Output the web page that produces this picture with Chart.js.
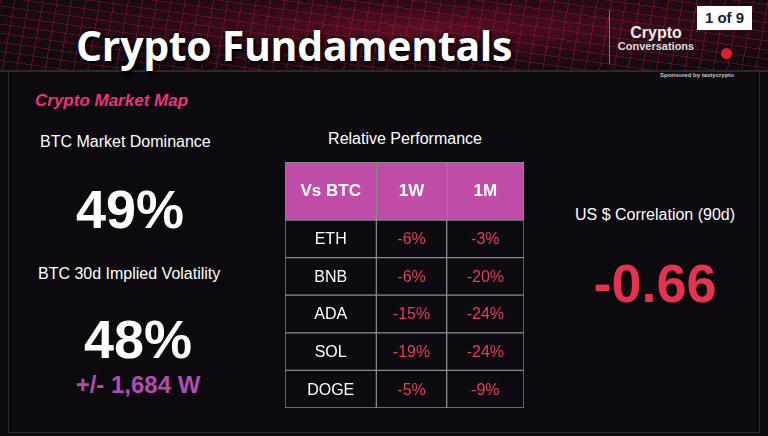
<!DOCTYPE html>
<html><head><meta charset="utf-8">
<script src="https://cdn.jsdelivr.net/npm/chart.js@4.4.1/dist/chart.umd.min.js"></script>
<style>
  body { margin:0; width:768px; height:436px; background:#0c090f; overflow:hidden; font-family:"Liberation Sans", Arial, sans-serif; position:relative; }
  .abs { position:absolute; }
  #hdr { left:0; top:0; width:768px; height:70px;
    background:
      repeating-linear-gradient(100deg, rgba(200,30,60,0.35) 0 1px, transparent 1px 14px),
      repeating-linear-gradient(8deg, rgba(200,30,60,0.30) 0 1px, transparent 1px 9px),
      radial-gradient(ellipse at 55% 40%, #5a0f24 0%, #2a0a16 45%, #120a10 80%);
    border-bottom:2px solid #2a2a2a; }
  #frame { left:8px; top:70px; width:750px; height:362px; border:1px solid #2b2b2b; border-top:none; }
  #title { left:76px; top:17px; font:bold 41px "Open Sans", sans-serif; color:#fff; letter-spacing:-0.3px; text-shadow:0 0 4px #000, 2px 2px 3px #000; }
  #sep { left:609px; top:10px; width:1px; height:54px; background:#777; }
  #cc1 { left:616px; top:24px; width:80px; text-align:center; font:bold 16px "Liberation Sans"; color:#eee; }
  #cc2 { left:611px; top:40px; width:90px; text-align:center; font:bold 11px "Liberation Sans"; color:#ddd; }
  #cherry { left:721px; top:48px; width:11px; height:11px; border-radius:50%; background:#d8202e; }
  #page { left:697px; top:6px; width:55px; height:24px; background:#fff; color:#123; font:bold 15px "Liberation Sans"; text-align:center; line-height:24px; }
  #spons { left:660px; top:72px; font:bold 6px "Liberation Sans"; color:#ccc; }
  #mm { left:35px; top:91px; font:italic bold 17px "Liberation Sans"; color:#e8357a; }
  .lbl { font:16px "Liberation Sans"; color:#fff; }
  .big { font:bold 54px "Liberation Sans"; color:#fff; text-align:center; }
</style></head>
<body>
<div id="hdr" class="abs"></div>
<div id="frame" class="abs"></div>
<div id="title" class="abs">Crypto Fundamentals</div>
<div id="sep" class="abs"></div>
<div id="cc1" class="abs">Crypto</div>
<div id="cc2" class="abs">Conversations</div>
<div id="cherry" class="abs"></div>
<div id="page" class="abs">1 of 9</div>
<div id="spons" class="abs">Sponsored by tastycrypto</div>
<div id="mm" class="abs">Crypto Market Map</div>

<div class="abs lbl" style="left:40px;top:133px">BTC Market Dominance</div>
<div class="abs big" style="left:40px;top:178px;width:180px">49%</div>
<div class="abs lbl" style="left:38px;top:265px">BTC 30d Implied Volatility</div>
<div class="abs big" style="left:48px;top:308px;width:180px">48%</div>
<div class="abs" style="left:48px;top:371px;width:180px;text-align:center;font:bold 24px 'Liberation Sans';color:#b24db0">+/- 1,684 W</div>

<div class="abs lbl" style="left:285px;top:130px;width:240px;text-align:center">Relative Performance</div>
<div class="abs lbl" style="left:560px;top:206px;width:190px;text-align:center">US $ Correlation (90d)</div>
<div class="abs" style="left:560px;top:252px;width:190px;text-align:center;font:bold 54px 'Liberation Sans';color:#e3334e">-0.66</div>

<div class="abs" style="left:285px;top:162px;width:239px;height:246px"><canvas id="tbl"></canvas></div>

<script>
const headers = ['Vs BTC', '1W', '1M'];
const assets  = ['ETH', 'BNB', 'ADA', 'SOL', 'DOGE'];
const perf1W  = [-6, -6, -15, -19, -5];
const perf1M  = [-3, -20, -24, -24, -9];

// column widths of the table (layout, not data)
const colW = [91, 70, 77];
const HEAD_H = 58;

const cellText = {
  id: 'cellText',
  beforeDraw(chart) {
    const { ctx, chartArea: a } = chart;
    ctx.save();
    ctx.fillStyle = '#c04ea8';
    ctx.fillRect(a.left, 0, a.right - a.left, a.top);
    ctx.strokeStyle = '#8a8a8a';
    ctx.lineWidth = 1;
    ctx.strokeRect(a.left + 0.5, 0.5, a.right - a.left - 1, a.top);
    ctx.font = 'bold 17px "Liberation Sans"';
    ctx.fillStyle = '#fff';
    ctx.textAlign = 'center';
    ctx.textBaseline = 'middle';
    const x = chart.scales.x;
    let acc = 0;
    headers.forEach((h, i) => {
      const l = x.getPixelForValue(acc), r = x.getPixelForValue(acc + colW[i]);
      ctx.fillText(h, (l + r) / 2, a.top / 2);
      if (i > 0) { ctx.beginPath(); ctx.moveTo(Math.round(l) + 0.5, 0); ctx.lineTo(Math.round(l) + 0.5, a.top); ctx.stroke(); }
      acc += colW[i];
    });
    ctx.restore();
  },
  afterDatasetsDraw(chart) {
    const { ctx } = chart;
    ctx.save();
    ctx.font = '16px "Liberation Sans"';
    ctx.textAlign = 'center';
    ctx.textBaseline = 'middle';
    chart.data.datasets.forEach((ds, di) => {
      chart.getDatasetMeta(di).data.forEach((bar, ri) => {
        const cx = (bar.base + bar.x) / 2;
        let txt;
        if (di === 0) { txt = assets[ri]; ctx.fillStyle = '#fff'; }
        else { txt = (di === 1 ? perf1W : perf1M)[ri] + '%'; ctx.fillStyle = '#e0405a'; }
        ctx.fillText(txt, cx, bar.y + 1);
      });
    });
    ctx.restore();
  }
};

new Chart(document.getElementById('tbl'), {
  type: 'bar',
  data: {
    labels: assets,
    datasets: headers.map((h, i) => ({
      label: h,
      data: assets.map(() => colW[i]),
      backgroundColor: '#0d0a12',
      borderColor: '#8a8a8a',
      borderWidth: 1,
      borderSkipped: false,
      barPercentage: 1,
      categoryPercentage: 1
    }))
  },
  options: {
    indexAxis: 'y',
    responsive: true, maintainAspectRatio: false, animation: false,
    layout: { padding: { top: HEAD_H } },
    plugins: { legend: { display: false }, tooltip: { enabled: false } },
    scales: {
      x: { stacked: true, min: 0, max: 238, display: false },
      y: { stacked: true, display: false }
    }
  },
  plugins: [cellText]
});
</script>
</body></html>
